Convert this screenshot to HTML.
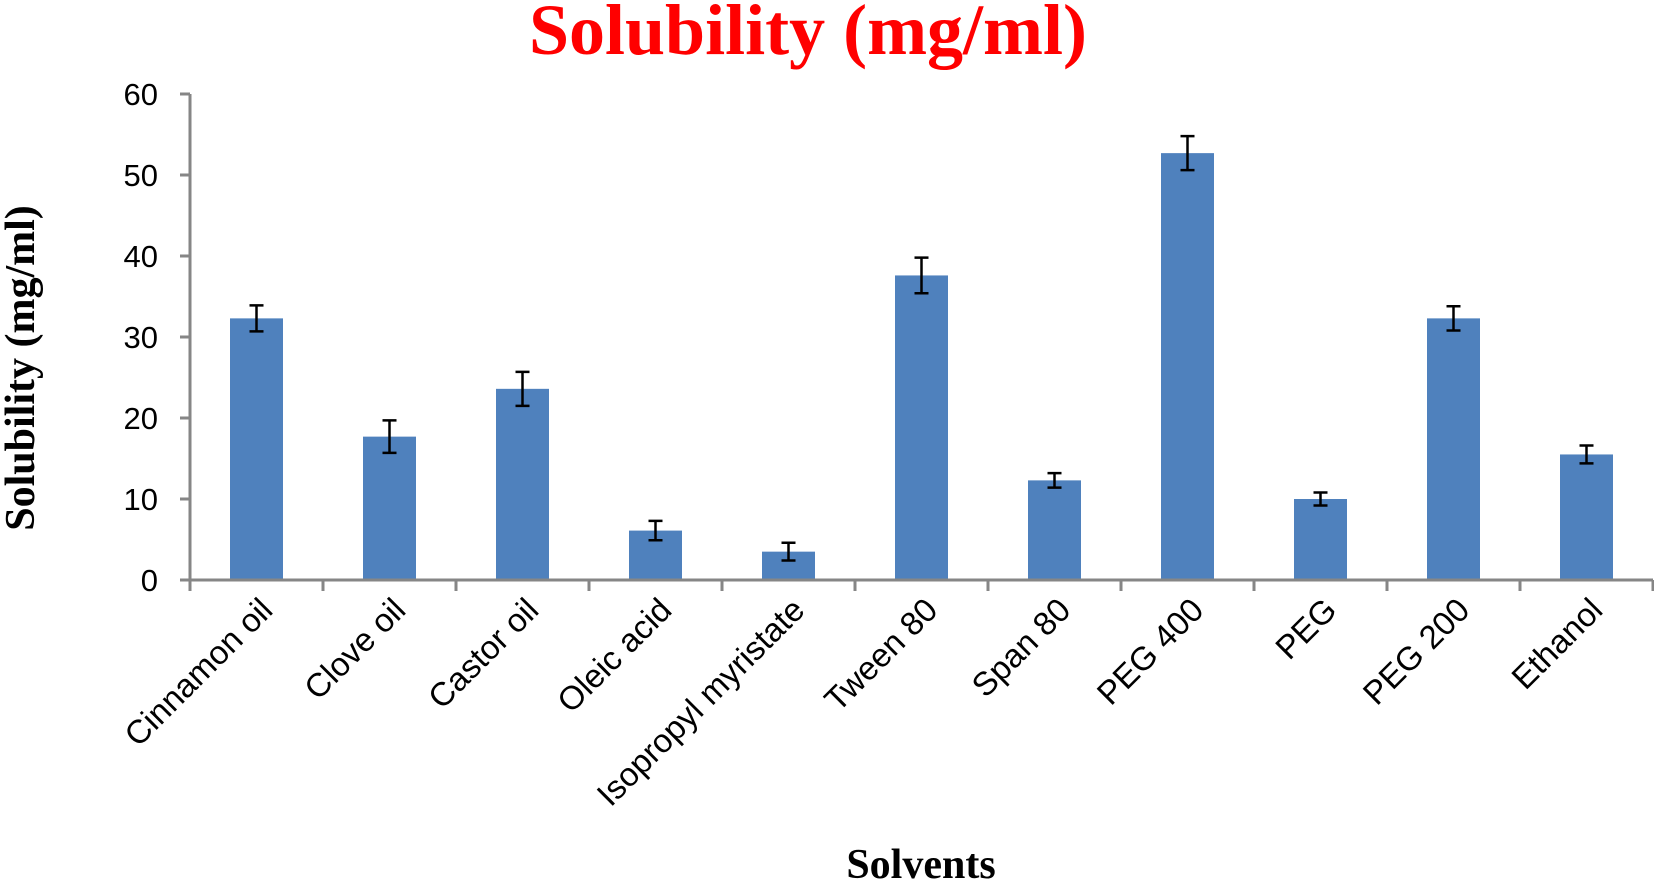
<!DOCTYPE html>
<html><head><meta charset="utf-8"><style>body{margin:0;background:#fff}svg{display:block}</style></head>
<body>
<svg width="1654" height="882" viewBox="0 0 1654 882">
<text x="808" y="54" text-anchor="middle" font-family="Liberation Serif, serif" font-weight="bold" font-size="72" fill="#ff0000">Solubility (mg/ml)</text>
<text transform="translate(34,368) rotate(-90)" text-anchor="middle" font-family="Liberation Serif, serif" font-weight="bold" font-size="42">Solubility (mg/ml)</text>
<text x="921" y="878" text-anchor="middle" font-family="Liberation Serif, serif" font-weight="bold" font-size="42">Solvents</text>
<g id="plot"></g>
</svg>
<script>
const categories=["Cinnamon oil","Clove oil","Castor oil","Oleic acid","Isopropyl myristate","Tween 80","Span 80","PEG 400","PEG","PEG 200","Ethanol"];
const values=[32.3,17.7,23.6,6.1,3.5,37.6,12.3,52.7,10.0,32.3,15.5];
const errors=[1.6,2.0,2.1,1.2,1.1,2.2,0.9,2.1,0.8,1.5,1.1];
const yTicks=[0,10,20,30,40,50,60];
const NS="http://www.w3.org/2000/svg";
const g=document.getElementById('plot');
const x0=190,x1=1653,y0=580,yTop=94,yMax=60;
const bw=(x1-x0)/categories.length;
const y=v=>y0-(v/yMax)*(y0-yTop);
const cx=i=>x0+bw*(i+0.5);
function mk(t,a){const e=document.createElementNS(NS,t);for(const k in a)e.setAttribute(k,a[k]);g.appendChild(e);return e;}
let e=mk('line',{x1:x0,y1:y0,x2:x0,y2:yTop,stroke:'#868686','stroke-width':3});


yTicks.forEach(t=>{
 let l=mk('line',{x1:x0-10,y1:y(t),x2:x0,y2:y(t),stroke:'#868686','stroke-width':3});
 
 
 let tx=mk('text',{x:158,y:y(t)+11,'text-anchor':'end','font-family':'Liberation Sans, sans-serif','font-size':31});
 tx.textContent=t;
 
 
});
categories.forEach((c,i)=>{
 const v=values[i],er=errors[i],c0=cx(i);
 let b=mk('rect',{x:c0-26.5,y:y(v),width:53,height:y0-y(v),fill:'#4f81bd'});
 
 
 let eb=mk('path',{d:`M${c0},${y(v+er)}V${y(v-er)}M${c0-7},${y(v+er)}H${c0+7}M${c0-7},${y(v-er)}H${c0+7}`,stroke:'#000','stroke-width':2.5,fill:'none'});
 
 
 let lb=mk('text',{transform:`translate(${c0+18},${612}) rotate(-45)`,'text-anchor':'end','font-family':'Liberation Sans, sans-serif','font-size':33});
 lb.textContent=c;
 
 
});
for(let i=0;i<=categories.length;i++){
 let l=mk('line',{x1:x0+bw*i,y1:y0,x2:x0+bw*i,y2:y0+11,stroke:'#868686','stroke-width':3});
 
 
}
e=mk('line',{x1:x0-10,y1:y0,x2:x1,y2:y0,stroke:'#868686','stroke-width':3});


</script>
</body></html>
